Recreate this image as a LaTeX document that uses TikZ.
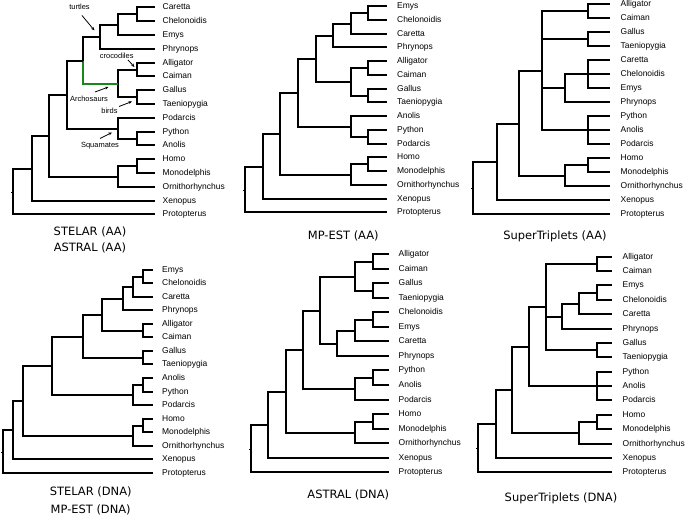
\documentclass[tikz,border=0pt]{standalone}
\usepackage{fontspec}
\setmainfont{Liberation Sans}
\newfontfamily\titlefont{DejaVu Sans}
\usetikzlibrary{calc,arrows.meta}
\definecolor{cgreen}{RGB}{25,135,25}
\newdimen\myYa \newdimen\myYb
\newcommand\lf[3]{\pgfmathsetmacro\tmpy{round(\TY+#2*\SP)}\node[leaf] (#1) at (\LX,\tmpy) {#3};}
\newcommand\inn[4]{\pgfextracty{\myYa}{\pgfpointanchor{#3}{center}}\pgfextracty{\myYb}{\pgfpointanchor{#4}{center}}%
  \pgfmathsetmacro\tmpy{round(0.5*(\myYa+\myYb)/1bp)}\pgfmathsetmacro\tmpx{round(#2)}%
  \coordinate (#1) at (\tmpx bp,\tmpy bp);}
\newcommand\cn[2]{\draw[br] (#1) |- (#2);}
\newcommand\cl[2]{\draw[br] (#1) |- (#2.west);}
\newcommand\rt[1]{\coordinate (#10) at ($(#1)+(-2.5,0)$); \draw[line width=1bp] (#1) -- (#10);}
\begin{document}
\begin{tikzpicture}[x=1bp,y=-1bp,
  br/.style={line width=2bp, line join=miter},
  leaf/.style={anchor=west, inner xsep=\LG, inner ysep=0pt, font=\fontsize{8.5}{10}\selectfont, text height=6.2pt, text depth=1.8pt},
  ttl/.style={font=\titlefont\fontsize{11.5}{13}\selectfont, inner sep=0pt},
  ann/.style={font=\fontsize{7.5}{9}\selectfont, inner sep=0pt},
  arr/.style={line width=0.8bp, -{Stealth[length=3.5pt,width=3pt]}}]
\useasboundingbox (0,0) rectangle (685,517);

% ---------------- Panel 1: STELAR (AA) / ASTRAL (AA)
\def\LX{155}\def\TY{7.3}\def\SP{13.8}\def\LG{7.5pt}
\lf{aCar}{0}{Caretta}\lf{aChe}{1}{Chelonoidis}\lf{aEmy}{2}{Emys}\lf{aPhr}{3}{Phrynops}
\lf{aAll}{4}{Alligator}\lf{aCai}{5}{Caiman}\lf{aGal}{6}{Gallus}\lf{aTae}{7}{Taeniopygia}
\lf{aPod}{8}{Podarcis}\lf{aPyt}{9}{Python}\lf{aAno}{10}{Anolis}\lf{aHom}{11}{Homo}
\lf{aMon}{12}{Monodelphis}\lf{aOrn}{13}{Ornithorhynchus}\lf{aXen}{14}{Xenopus}\lf{aPro}{15}{Protopterus}
\inn{a1}{136.7}{aCar}{aChe}
\inn{a2}{118.3}{a1}{aEmy}
\inn{aT}{100}{a2}{aPhr}
\inn{aC}{136.7}{aAll}{aCai}
\inn{aB}{136.7}{aGal}{aTae}
\inn{aA}{118.3}{aC}{aB}
\inn{aTA}{83.3}{aT}{aA}
\inn{aP}{136.7}{aPyt}{aAno}
\inn{aS}{118.3}{aPod}{aP}
\inn{aSa}{66.7}{aTA}{aS}
\inn{aM1}{136.7}{aHom}{aMon}
\inn{aM}{118.3}{aM1}{aOrn}
\inn{aAm}{49}{aSa}{aM}
\inn{aTe}{32.3}{aAm}{aXen}
\inn{aR}{13.3}{aTe}{aPro}
\cl{a1}{aCar}\cl{a1}{aChe}\cn{a2}{a1}\cl{a2}{aEmy}\cn{aT}{a2}\cl{aT}{aPhr}
\cl{aC}{aAll}\cl{aC}{aCai}\cl{aB}{aGal}\cl{aB}{aTae}\cn{aA}{aC}\cn{aA}{aB}
\cn{aTA}{aT}\draw[br,cgreen] (aTA) |- (aA);
\cl{aP}{aPyt}\cl{aP}{aAno}\cl{aS}{aPod}\cn{aS}{aP}
\cn{aSa}{aTA}\cn{aSa}{aS}
\cl{aM1}{aHom}\cl{aM1}{aMon}\cn{aM}{aM1}\cl{aM}{aOrn}
\cn{aAm}{aSa}\cn{aAm}{aM}\cn{aTe}{aAm}\cl{aTe}{aXen}\cn{aR}{aTe}\cl{aR}{aPro}
\rt{aR}
% annotations
\node[ann] (lT) at (79.5,6.5) {turtles};
\coordinate (lTs) at (82,15.5); \coordinate (lTe) at (94.5,30.5);
\draw[arr] (lTs) -- (lTe);
\node[ann] (lC) at (116.7,55.5) {crocodiles};
\coordinate (lCs) at (128,60); \coordinate (lCe) at (134.5,67);
\draw[arr] (lCs) -- (lCe);
\node[ann] (lA) at (89,99) {Archosaurs};
\coordinate (lAs) at (95,92); \coordinate (lAe) at (108.5,87);
\draw[arr] (lAs) -- (lAe);
\node[ann] (lB) at (109.5,110.5) {birds};
\coordinate (lBs) at (119,106.5); \coordinate (lBe) at (132,101.5);
\draw[arr] (lBs) -- (lBe);
\node[ann] (lS) at (100,146) {Squamates};
\coordinate (lSs) at (100,138.5); \coordinate (lSe) at (112,132.5);
\draw[arr] (lSs) -- (lSe);

% ---------------- Panel 2: MP-EST (AA)
\def\LX{387}\def\TY{6}\def\SP{13.75}\def\LG{10pt}
\lf{bEmy}{0}{Emys}\lf{bChe}{1}{Chelonoidis}\lf{bCar}{2}{Caretta}\lf{bPhr}{3}{Phrynops}
\lf{bAll}{4}{Alligator}\lf{bCai}{5}{Caiman}\lf{bGal}{6}{Gallus}\lf{bTae}{7}{Taeniopygia}
\lf{bAno}{8}{Anolis}\lf{bPyt}{9}{Python}\lf{bPod}{10}{Podarcis}\lf{bHom}{11}{Homo}
\lf{bMon}{12}{Monodelphis}\lf{bOrn}{13}{Ornithorhynchus}\lf{bXen}{14}{Xenopus}\lf{bPro}{15}{Protopterus}
\inn{b1}{368.3}{bEmy}{bChe}
\inn{b2}{350.7}{b1}{bCar}
\inn{bT}{333.3}{b2}{bPhr}
\inn{bC}{368.3}{bAll}{bCai}
\inn{bB}{368.3}{bGal}{bTae}
\inn{bA}{350.7}{bC}{bB}
\inn{bTA}{316}{bT}{bA}
\inn{bP}{368.3}{bPyt}{bPod}
\inn{bS}{350.7}{bAno}{bP}
\inn{bSa}{298.3}{bTA}{bS}
\inn{bM1}{368.3}{bHom}{bMon}
\inn{bM}{350.7}{bM1}{bOrn}
\inn{bAm}{280}{bSa}{bM}
\inn{bTe}{262.7}{bAm}{bXen}
\inn{bR}{245}{bTe}{bPro}
\cl{b1}{bEmy}\cl{b1}{bChe}\cn{b2}{b1}\cl{b2}{bCar}\cn{bT}{b2}\cl{bT}{bPhr}
\cl{bC}{bAll}\cl{bC}{bCai}\cl{bB}{bGal}\cl{bB}{bTae}\cn{bA}{bC}\cn{bA}{bB}
\cn{bTA}{bT}\cn{bTA}{bA}
\cl{bP}{bPyt}\cl{bP}{bPod}\cl{bS}{bAno}\cn{bS}{bP}
\cn{bSa}{bTA}\cn{bSa}{bS}
\cl{bM1}{bHom}\cl{bM1}{bMon}\cn{bM}{bM1}\cl{bM}{bOrn}
\cn{bAm}{bSa}\cn{bAm}{bM}\cn{bTe}{bAm}\cl{bTe}{bXen}\cn{bR}{bTe}\cl{bR}{bPro}
\rt{bR}

% ---------------- Panel 3: SuperTriplets (AA)
\def\LX{610}\def\TY{3.5}\def\SP{14}\def\LG{10.5pt}
\lf{cAll}{0}{Alligator}\lf{cCai}{1}{Caiman}\lf{cGal}{2}{Gallus}\lf{cTae}{3}{Taeniopygia}
\lf{cCar}{4}{Caretta}\lf{cChe}{5}{Chelonoidis}\lf{cEmy}{6}{Emys}\lf{cPhr}{7}{Phrynops}
\lf{cPyt}{8}{Python}\lf{cAno}{9}{Anolis}\lf{cPod}{10}{Podarcis}\lf{cHom}{11}{Homo}
\lf{cMon}{12}{Monodelphis}\lf{cOrn}{13}{Ornithorhynchus}\lf{cXen}{14}{Xenopus}\lf{cPro}{15}{Protopterus}
\inn{cC}{587.5}{cAll}{cCai}
\inn{cB}{587.5}{cGal}{cTae}
\inn{c1}{587.5}{cCar}{cEmy}
\inn{cT}{565}{c1}{cPhr}
\inn{cS}{587.5}{cPyt}{cPod}
\inn{cSa}{542}{cC}{cS}
\inn{cM1}{587.5}{cHom}{cMon}
\inn{cM}{565}{cM1}{cOrn}
\inn{cAm}{519}{cSa}{cM}
\inn{cTe}{496.7}{cAm}{cXen}
\inn{cR}{473.3}{cTe}{cPro}
\cl{cC}{cAll}\cl{cC}{cCai}\cl{cB}{cGal}\cl{cB}{cTae}
\cl{c1}{cCar}\cl{c1}{cChe}\cl{c1}{cEmy}\cn{cT}{c1}\cl{cT}{cPhr}
\cl{cS}{cPyt}\cl{cS}{cAno}\cl{cS}{cPod}
\cn{cSa}{cC}\cn{cSa}{cB}\cn{cSa}{cT}\cn{cSa}{cS}
\cl{cM1}{cHom}\cl{cM1}{cMon}\cn{cM}{cM1}\cl{cM}{cOrn}
\cn{cAm}{cSa}\cn{cAm}{cM}\cn{cTe}{cAm}\cl{cTe}{cXen}\cn{cR}{cTe}\cl{cR}{cPro}
\rt{cR}

% ---------------- Panel 4: STELAR (DNA) / MP-EST (DNA)
\def\LX{153}\def\TY{269.5}\def\SP{13.57}\def\LG{9pt}
\lf{dEmy}{0}{Emys}\lf{dChe}{1}{Chelonoidis}\lf{dCar}{2}{Caretta}\lf{dPhr}{3}{Phrynops}
\lf{dAll}{4}{Alligator}\lf{dCai}{5}{Caiman}\lf{dGal}{6}{Gallus}\lf{dTae}{7}{Taeniopygia}
\lf{dAno}{8}{Anolis}\lf{dPyt}{9}{Python}\lf{dPod}{10}{Podarcis}\lf{dHom}{11}{Homo}
\lf{dMon}{12}{Monodelphis}\lf{dOrn}{13}{Ornithorhynchus}\lf{dXen}{14}{Xenopus}\lf{dPro}{15}{Protopterus}
\inn{d1}{143.3}{dEmy}{dChe}
\inn{d2}{133.3}{d1}{dCar}
\inn{dT}{122.7}{d2}{dPhr}
\inn{dC}{143.3}{dAll}{dCai}
\inn{dTC}{101.7}{dT}{dC}
\inn{dB}{143.3}{dGal}{dTae}
\inn{dTCB}{82.7}{dTC}{dB}
\inn{dP}{143.3}{dAno}{dPyt}
\inn{dS}{133.3}{dP}{dPod}
\inn{dSa}{51.7}{dTCB}{dS}
\inn{dM1}{143.3}{dHom}{dMon}
\inn{dM}{133.3}{dM1}{dOrn}
\inn{dAm}{22.7}{dSa}{dM}
\inn{dTe}{12.7}{dAm}{dXen}
\inn{dR}{3}{dTe}{dPro}
\cl{d1}{dEmy}\cl{d1}{dChe}\cn{d2}{d1}\cl{d2}{dCar}\cn{dT}{d2}\cl{dT}{dPhr}
\cl{dC}{dAll}\cl{dC}{dCai}\cn{dTC}{dT}\cn{dTC}{dC}
\cl{dB}{dGal}\cl{dB}{dTae}\cn{dTCB}{dTC}\cn{dTCB}{dB}
\cl{dP}{dAno}\cl{dP}{dPyt}\cn{dS}{dP}\cl{dS}{dPod}
\cn{dSa}{dTCB}\cn{dSa}{dS}
\cl{dM1}{dHom}\cl{dM1}{dMon}\cn{dM}{dM1}\cl{dM}{dOrn}
\cn{dAm}{dSa}\cn{dAm}{dM}\cn{dTe}{dAm}\cl{dTe}{dXen}\cn{dR}{dTe}\cl{dR}{dPro}
\rt{dR}

% ---------------- Panel 5: ASTRAL (DNA)
\def\LX{389}\def\TY{254}\def\SP{14.55}\def\LG{9.5pt}
\lf{eAll}{0}{Alligator}\lf{eCai}{1}{Caiman}\lf{eGal}{2}{Gallus}\lf{eTae}{3}{Taeniopygia}
\lf{eChe}{4}{Chelonoidis}\lf{eEmy}{5}{Emys}\lf{eCar}{6}{Caretta}\lf{ePhr}{7}{Phrynops}
\lf{ePyt}{8}{Python}\lf{eAno}{9}{Anolis}\lf{ePod}{10}{Podarcis}\lf{eHom}{11}{Homo}
\lf{eMon}{12}{Monodelphis}\lf{eOrn}{13}{Ornithorhynchus}\lf{eXen}{14}{Xenopus}\lf{ePro}{15}{Protopterus}
\inn{eC}{372.7}{eAll}{eCai}
\inn{eB}{372.7}{eGal}{eTae}
\inn{eA}{355}{eC}{eB}
\inn{e1}{372.7}{eChe}{eEmy}
\inn{e2}{355}{e1}{eCar}
\inn{eT}{337.3}{e2}{ePhr}
\inn{eAT}{320}{eA}{eT}
\inn{eP}{372.7}{ePyt}{eAno}
\inn{eS}{355}{eP}{ePod}
\inn{eSa}{302.7}{eAT}{eS}
\inn{eM1}{372.7}{eHom}{eMon}
\inn{eM}{355}{eM1}{eOrn}
\inn{eAm}{285.7}{eSa}{eM}
\inn{eTe}{268.3}{eAm}{eXen}
\inn{eR}{250.7}{eTe}{ePro}
\cl{eC}{eAll}\cl{eC}{eCai}\cl{eB}{eGal}\cl{eB}{eTae}\cn{eA}{eC}\cn{eA}{eB}
\cl{e1}{eChe}\cl{e1}{eEmy}\cn{e2}{e1}\cl{e2}{eCar}\cn{eT}{e2}\cl{eT}{ePhr}
\cn{eAT}{eA}\cn{eAT}{eT}
\cl{eP}{ePyt}\cl{eP}{eAno}\cn{eS}{eP}\cl{eS}{ePod}
\cn{eSa}{eAT}\cn{eSa}{eS}
\cl{eM1}{eHom}\cl{eM1}{eMon}\cn{eM}{eM1}\cl{eM}{eOrn}
\cn{eAm}{eSa}\cn{eAm}{eM}\cn{eTe}{eAm}\cl{eTe}{eXen}\cn{eR}{eTe}\cl{eR}{ePro}
\rt{eR}

% ---------------- Panel 6: SuperTriplets (DNA)
\def\LX{612}\def\TY{256.7}\def\SP{14.37}\def\LG{10.5pt}
\lf{fAll}{0}{Alligator}\lf{fCai}{1}{Caiman}\lf{fEmy}{2}{Emys}\lf{fChe}{3}{Chelonoidis}
\lf{fCar}{4}{Caretta}\lf{fPhr}{5}{Phrynops}\lf{fGal}{6}{Gallus}\lf{fTae}{7}{Taeniopygia}
\lf{fPyt}{8}{Python}\lf{fAno}{9}{Anolis}\lf{fPod}{10}{Podarcis}\lf{fHom}{11}{Homo}
\lf{fMon}{12}{Monodelphis}\lf{fOrn}{13}{Ornithorhynchus}\lf{fXen}{14}{Xenopus}\lf{fPro}{15}{Protopterus}
\inn{fC}{596.7}{fAll}{fCai}
\inn{f1}{596.7}{fEmy}{fChe}
\inn{f2}{579.3}{f1}{fCar}
\inn{fT}{562.3}{f2}{fPhr}
\inn{fB}{596.7}{fGal}{fTae}
\inn{fX}{545.7}{fC}{fB}
\inn{fS}{596.7}{fPyt}{fPod}
\inn{fSa}{529}{fX}{fS}
\inn{fM1}{596.7}{fHom}{fMon}
\inn{fM}{579.3}{fM1}{fOrn}
\inn{fAm}{512.3}{fSa}{fM}
\inn{fTe}{495.7}{fAm}{fXen}
\inn{fR}{478.3}{fTe}{fPro}
\cl{fC}{fAll}\cl{fC}{fCai}
\cl{f1}{fEmy}\cl{f1}{fChe}\cn{f2}{f1}\cl{f2}{fCar}\cn{fT}{f2}\cl{fT}{fPhr}
\cl{fB}{fGal}\cl{fB}{fTae}
\cn{fX}{fC}\cn{fX}{fT}\cn{fX}{fB}
\cl{fS}{fPyt}\cl{fS}{fAno}\cl{fS}{fPod}
\cn{fSa}{fX}\cn{fSa}{fS}
\cl{fM1}{fHom}\cl{fM1}{fMon}\cn{fM}{fM1}\cl{fM}{fOrn}
\cn{fAm}{fSa}\cn{fAm}{fM}\cn{fTe}{fAm}\cl{fTe}{fXen}\cn{fR}{fTe}\cl{fR}{fPro}
\rt{fR}

% ---------------- Titles
\node[ttl] (t1) at (90,231.7) {STELAR (AA)};
\node[ttl] (t2) at (90,247.7) {ASTRAL (AA)};
\node[ttl] (t3) at (343.3,236) {MP-EST (AA)};
\node[ttl] (t4) at (555,236.7) {SuperTriplets (AA)};
\node[ttl] (t5) at (90.7,492) {STELAR (DNA)};
\node[ttl] (t6) at (90.7,509.5) {MP-EST (DNA)};
\node[ttl] (t7) at (348.3,495) {ASTRAL (DNA)};
\node[ttl] (t8) at (561,498.3) {SuperTriplets (DNA)};
\end{tikzpicture}
\end{document}
